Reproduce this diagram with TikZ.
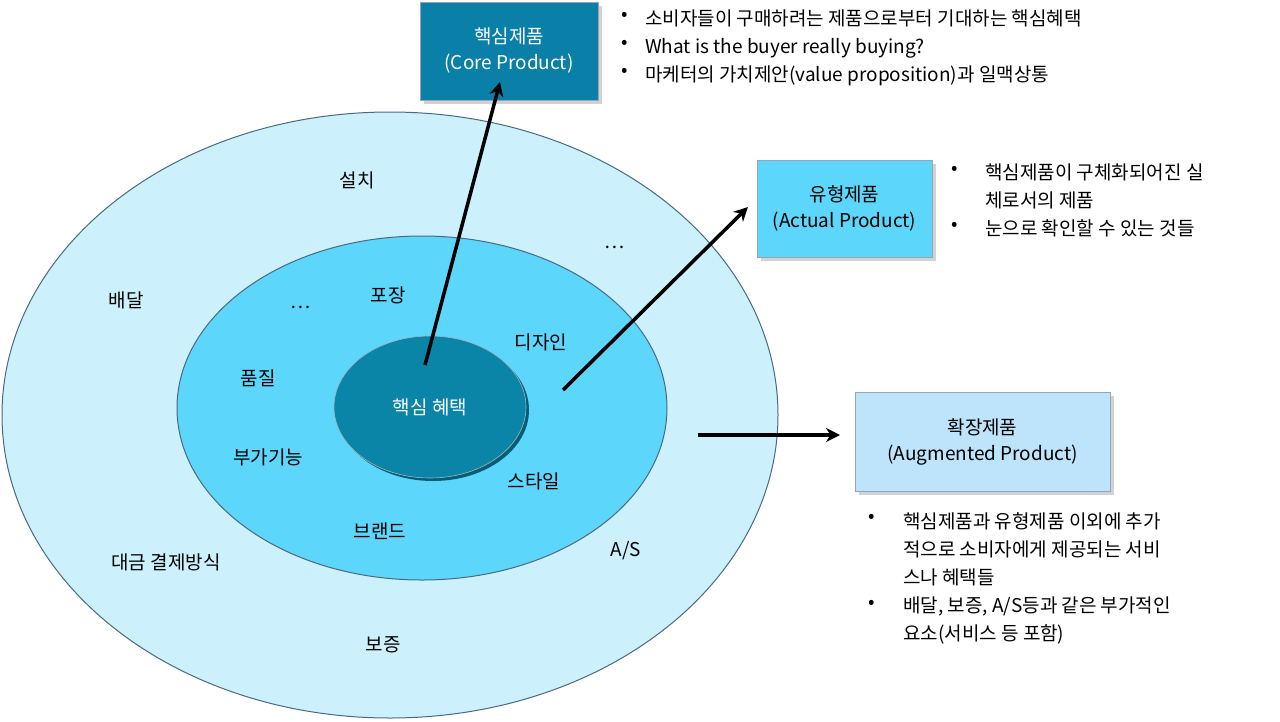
\documentclass[tikz,border=0pt]{standalone}
\usepackage{fontspec}
\setmainfont{Noto Sans CJK KR}
\usetikzlibrary{shadows,arrows.meta}
\definecolor{outerc}{HTML}{CCF0FC}
\definecolor{midc}{HTML}{5CD6FA}
\definecolor{innerc}{HTML}{0A85A8}
\definecolor{corebox}{HTML}{0A7FA8}
\definecolor{augbox}{HTML}{BDE4FA}
\definecolor{edgec}{HTML}{4A6A80}
\begin{document}
\begin{tikzpicture}[x=1pt,y=-1pt,
  lbl/.style={font=\fontsize{19}{22}\selectfont,inner sep=0pt},
  txt/.style={font=\fontsize{19}{28}\selectfont,inner sep=0pt,anchor=north west,align=left},
  bul/.style={font=\fontsize{19}{28}\selectfont,inner sep=0pt,anchor=north},
  boxs/.style={draw=edgec!60,drop shadow={shadow xshift=4pt,shadow yshift=-4pt,fill=gray!70},align=center,font=\fontsize{19}{26}\selectfont,inner sep=0pt},
  arr/.style={line width=3.5pt,-{Stealth[length=14pt,width=14pt]}}]
\useasboundingbox (0,0) rectangle (1280,721);
\draw[fill=outerc,draw=edgec,line width=1pt] (390,415) ellipse [x radius=388,y radius=303];
\draw[fill=midc,draw=edgec,line width=1pt] (422,408) ellipse [x radius=245,y radius=172];
\fill[innerc!70!black] (433,410) ellipse [x radius=96,y radius=71];
\draw[fill=innerc,draw=edgec!50,line width=0.6pt] (430,407) ellipse [x radius=96,y radius=71];
\node[lbl,text=white] (core) at (430,407) {핵심 혜택};
\node[lbl] (a1) at (357,180) {설치};
\node[lbl] (a2) at (126,300) {배달};
\node[lbl] (a3) at (166,562) {대금 결제방식};
\node[lbl] (a4) at (383,645) {보증};
\node[lbl] (a5) at (626,551) {A/S};
\node[lbl] (a6) at (615,247) {…};
\node[lbl] (m1) at (388,295) {포장};
\node[lbl] (m2) at (301,307) {…};
\node[lbl] (m3) at (541,342) {디자인};
\node[lbl] (m4) at (258,378) {품질};
\node[lbl] (m5) at (268,457) {부가기능};
\node[lbl] (m6) at (534,481) {스타일};
\node[lbl] (m7) at (380,531) {브랜드};
\node[boxs,fill=corebox,text=white,minimum width=178pt,minimum height=98pt] (cb) at (509,51) {핵심제품\\(Core Product)};
\node[boxs,fill=midc,minimum width=175pt,minimum height=97pt] (ab) at (844.5,208.5) {유형제품\\(Actual Product)};
\node[boxs,fill=augbox,minimum width=255pt,minimum height=99pt] (gb) at (982.5,441.5) {확장제품\\(Augmented Product)};
\coordinate (s1) at (425,365); \coordinate (e1) at (500,82);
\coordinate (s2) at (563,390); \coordinate (e2) at (748,207);
\coordinate (s3) at (698,435); \coordinate (e3) at (840,435);
\draw[arr] (s1) -- (e1);
\draw[arr] (s2) -- (e2);
\draw[arr] (s3) -- (e3);
\foreach \y in {12,40,68} \node[bul] at (625,\y) {•};
\node[txt] (t1) at (645,10) {소비자들이 구매하려는 제품으로부터 기대하는 핵심혜택\\What is the buyer really buying?\\마케터의 가치제안(value proposition)과 일맥상통};
\foreach \y in {166,222} \node[bul] at (955,\y) {•};
\node[txt] (t2) at (985,164) {핵심제품이 구체화되어진 실\\체로서의 제품\\눈으로 확인할 수 있는 것들};
\foreach \y in {514,600} \node[bul] at (872,\y) {•};
\node[txt] (t3) at (903,512) {핵심제품과 유형제품 이외에 추가\\적으로 소비자에게 제공되는 서비\\스나 혜택들\\배달, 보증, A/S등과 같은 부가적인\\요소(서비스 등 포함)};
\end{tikzpicture}
\end{document}
